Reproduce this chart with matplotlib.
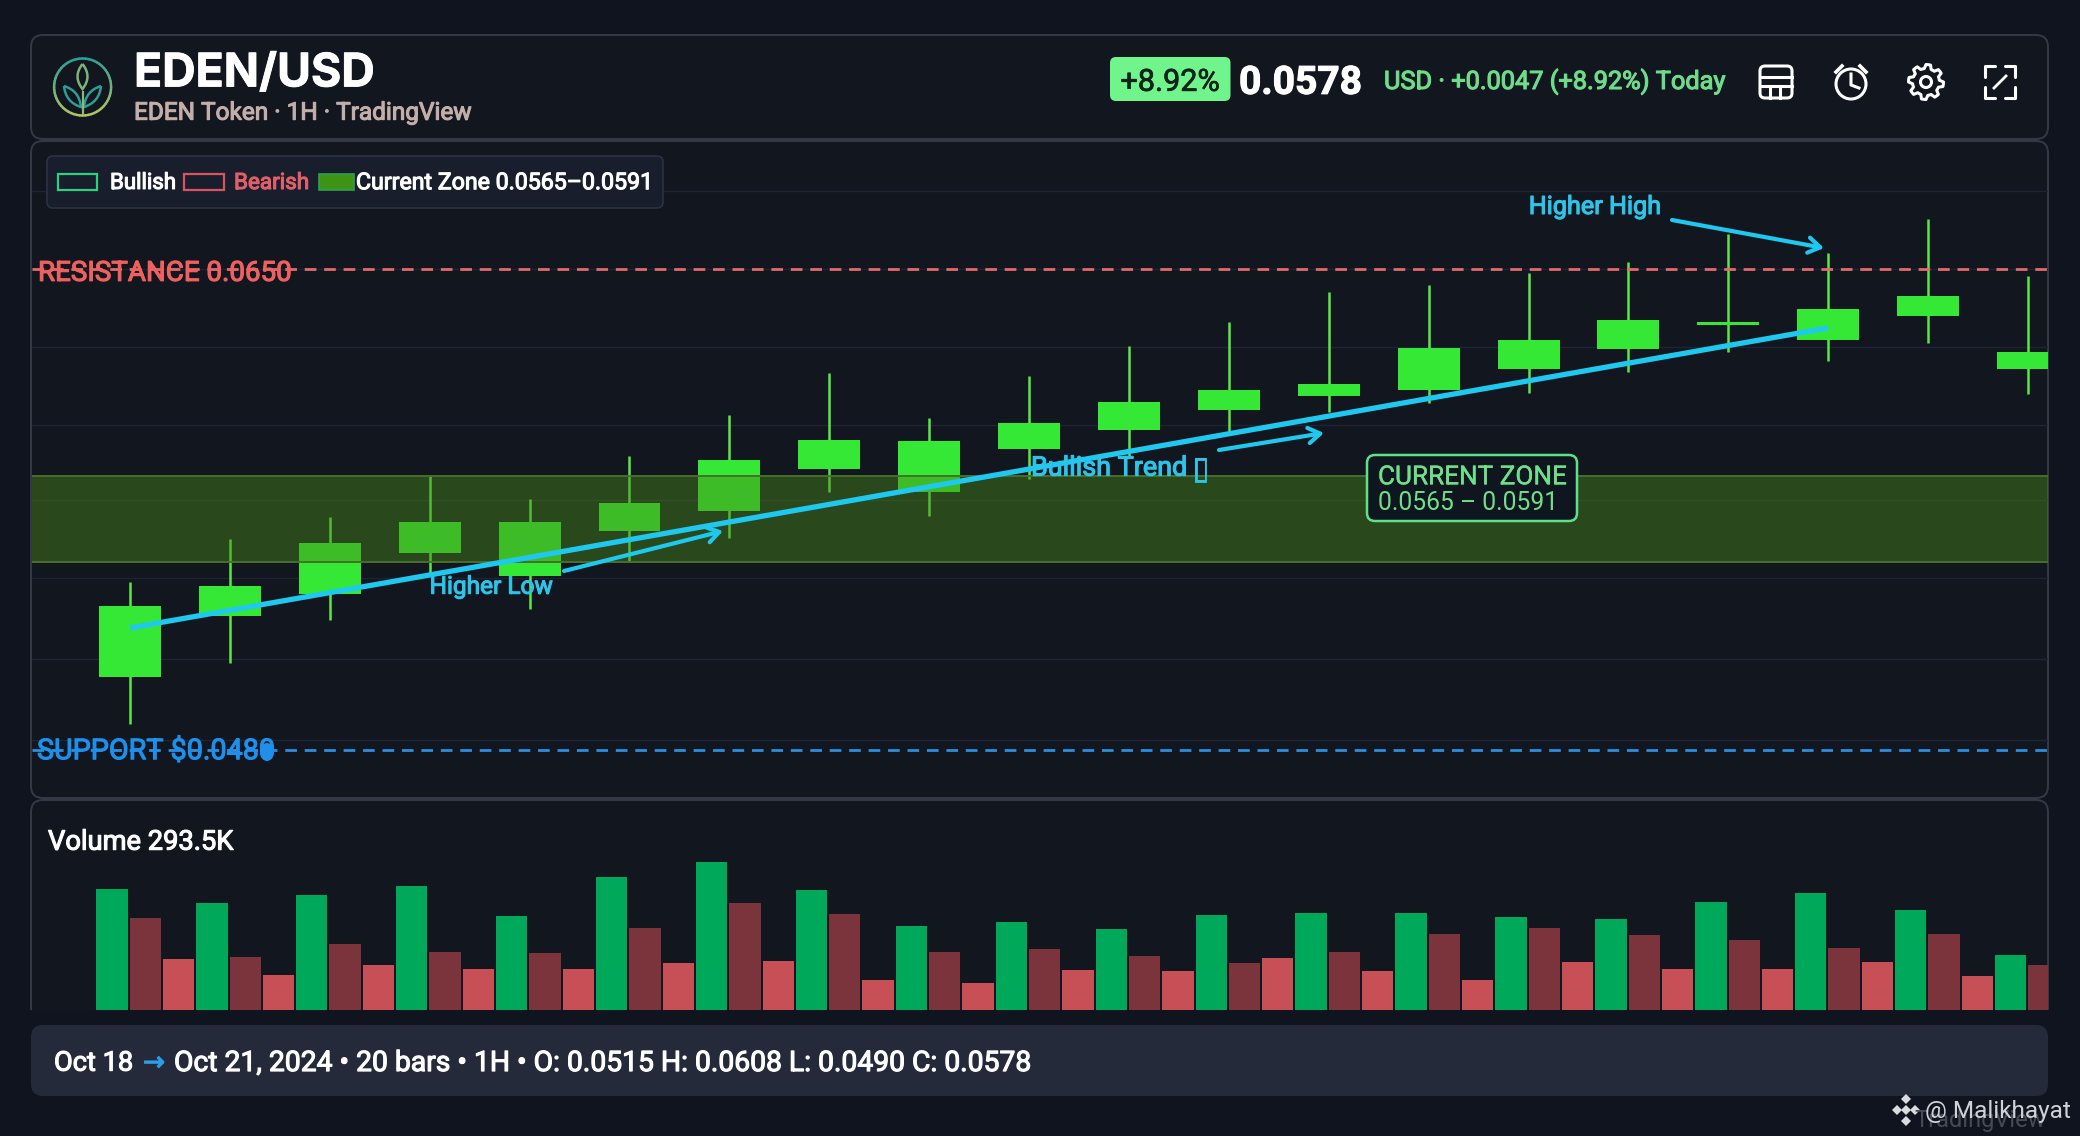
# EDEN/USD dark candlestick dashboard
import numpy as np
import matplotlib
matplotlib.use('Agg')
import matplotlib.pyplot as plt
import matplotlib.patheffects as pe
from matplotlib.patches import FancyBboxPatch, Rectangle, Circle, Ellipse, PathPatch, Polygon
from matplotlib.path import Path

plt.rcParams['font.family'] = ['Roboto', 'DejaVu Sans']

W, H = 2080, 1136

# price data
opens = [0.05057, 0.05273, 0.05351, 0.05496, 0.05415, 0.05574, 0.05645, 0.05794, 0.05712, 0.05865,
         0.05932, 0.06003, 0.06052, 0.06073, 0.06148, 0.06219, 0.06304, 0.06250, 0.06335, 0.06148]
closes = [0.05309, 0.05380, 0.05532, 0.05606, 0.05606, 0.05673, 0.05826, 0.05896, 0.05893, 0.05958,
          0.06031, 0.06073, 0.06095, 0.06222, 0.06250, 0.06321, 0.06314, 0.06360, 0.06406, 0.06208]
highs = [0.05395, 0.05546, 0.05624, 0.05769, 0.05688, 0.05840, 0.05985, 0.06134, 0.05974, 0.06123,
         0.06229, 0.06314, 0.06420, 0.06445, 0.06488, 0.06527, 0.06626, 0.06558, 0.06679, 0.06477]
lows = [0.04891, 0.05107, 0.05259, 0.05426, 0.05298, 0.05465, 0.05549, 0.05712, 0.05627, 0.05757,
        0.05833, 0.05925, 0.05996, 0.06027, 0.06063, 0.06137, 0.06208, 0.06176, 0.06240, 0.06059]

resistance = 0.0650
support = 0.0480
zone_low = 0.05463
zone_high = 0.05769
grid_prices = [0.06778, 0.0650, 0.06226, 0.0595, 0.05684, 0.05408, 0.05121, 0.04834]
trend_bars = [0, 17]
trend_prices = [0.05231, 0.06293]

# volume, one bar per slot, colours repeat green / dark red / light red
volumes = [121.3, 92, 50.7, 107.3, 53.3, 35, 114.7, 65.7, 45.3, 124, 58, 40.7, 94, 56.7, 40.7,
           133.3, 82, 47, 147.7, 107.3, 49, 120, 96.3, 29.7, 84.3, 58, 27.3, 87.7, 61, 40,
           80.7, 53.7, 38.7, 95.3, 46.7, 51.7, 96.7, 58.3, 39.3, 97, 75.7, 30.3, 93.3, 82, 48,
           90.7, 75, 40.7, 108, 69.7, 41.3, 117, 61.7, 48.3, 99.7, 76, 34, 55, 45.3]
vol_colors = ['#00A85A', '#7B343B', '#C75056']

BG = '#10141F'
BORDER = '#343948'
GREEN = '#35E835'
WICK = '#5CE64A'
CYAN = '#1FC8EE'
LABEL_CYAN = '#2CC4E8'

fig = plt.figure(figsize=(W / 100, H / 100), dpi=100, facecolor=BG)
renderer = fig.canvas.get_renderer()


def rect_axes(x0, y0, x1, y1, z):
    # axes from pixel box, y counted from the top
    a = fig.add_axes([x0 / W, 1 - y1 / H, (x1 - x0) / W, (y1 - y0) / H], zorder=z)
    a.patch.set_alpha(0)
    return a


# background layer in pixel coordinates
bg = rect_axes(0, 0, W, H, 0)
bg.set_xlim(0, W)
bg.set_ylim(H, 0)
bg.axis('off')


def panel(a, x0, y0, x1, y1, fc, ec, r=12, lw=1.4, z=1):
    p = FancyBboxPatch((x0, y0), x1 - x0, y1 - y0, boxstyle='round,pad=0,rounding_size=%d' % r,
                       fc=fc, ec=ec, lw=lw, zorder=z)
    a.add_patch(p)


panel(bg, 31, 35, 2048, 139, '#11161F', BORDER)
panel(bg, 31, 141, 2048, 798, '#11161F', BORDER)
# footer
panel(bg, 31, 1025, 2048, 1096, '#252A3A', 'none')

# volume panel has no bottom edge
r = 12
verts = [(31, 1010), (31, 800 + r), (31, 800), (31 + r, 800), (2048 - r, 800), (2048, 800), (2048, 800 + r), (2048, 1010)]
codes = [Path.MOVETO, Path.LINETO, Path.CURVE3, Path.CURVE3, Path.LINETO, Path.CURVE3, Path.CURVE3, Path.LINETO]
bg.add_patch(PathPatch(Path(verts, codes), fc='#11161F', ec=BORDER, lw=1.4, zorder=1))

# ---- price axes
ax = rect_axes(32, 140, 2048, 798, 1)
ax.set_xlim(-0.981, 19.2)
ax.set_ylim(0.04629, 0.06958)
ax.set_yticks(grid_prices)
ax.set_xticks([])
ax.tick_params(left=False, labelleft=False)
ax.grid(axis='y', color='#1F2334', lw=1.0)
ax.set_axisbelow(True)
for s in ax.spines.values():
    s.set_visible(False)

bars = np.arange(len(opens))
ax.vlines(bars, lows, highs, color=WICK, lw=1.8, zorder=2)
ax.bar(bars, np.array(closes) - np.array(opens), 0.62, bottom=opens, color=GREEN, zorder=3)
ax.axhspan(zone_low, zone_high, color='#488819', alpha=0.45, lw=0, zorder=4)
ax.axhline(zone_low, color='#47702B', lw=1.4, zorder=4)
ax.axhline(zone_high, color='#47702B', lw=1.4, zorder=4)
ax.axhline(resistance, color='#E46A6A', lw=2.0, dashes=(4.2, 2.8), zorder=5)
ax.axhline(support, color='#2A8FE0', lw=2.0, dashes=(4.2, 2.8), zorder=5)
ax.plot(trend_bars, trend_prices, color=CYAN, lw=3.8, solid_capstyle='butt', zorder=6)

# ---- volume axes
vax = rect_axes(32, 800, 2048, 1010, 1)
vax.set_xlim(-2.4, 58.12)
vax.set_ylim(0, 210)
vax.axis('off')
slots = np.arange(len(volumes))
vax.bar(slots, volumes, 0.94, color=[vol_colors[i % 3] for i in slots])

# ---- top layer for labels
top = rect_axes(0, 0, W, H, 3)
top.set_xlim(0, W)
top.set_ylim(H, 0)
top.axis('off')


def label(x, y, s, width, color='white', heavy=0.8, ha='left', family=None, weight='normal', z=5):
    # font size comes from the width the text has to fill, y is the middle of the capitals
    t = top.text(x, y, s, fontsize=20, color=color, ha=ha, va='baseline', fontweight=weight, zorder=z)
    if family:
        t.set_fontfamily(family)
    fs = 20 * width / t.get_window_extent(renderer).width
    t.set_fontsize(fs)
    t.set_y(y + 0.71 * fs * 100 / 72 / 2)
    if heavy:
        t.set_path_effects([pe.withStroke(linewidth=heavy, foreground=color)])
    return t


# header text
label(134, 70, 'EDEN/USD', 241, heavy=0.6, family=['Inter', 'DejaVu Sans'], weight='bold')
label(134, 111, 'EDEN Token · 1H · TradingView', 337, color='#C4AFA8')
top.add_patch(FancyBboxPatch((1110, 57), 120.5, 44, boxstyle='round,pad=0,rounding_size=6', fc='#6FF58C', ec='none'))
label(1170, 80, '+8.92%', 99, color='#10221A', ha='center', heavy=0.5)
label(1239, 80, '0.0578', 123, weight='bold')
label(1384, 80, 'USD · +0.0047 (+8.92%) Today', 341, color='#6EDC8A')

# logo, ring fades from teal to olive
cx, cy, rr = 82.6, 87, 28.5
angs = np.linspace(0, 2 * np.pi, 61)
c_a, c_b = np.array([0x28, 0xA0, 0x98]), np.array([0xB4, 0xC4, 0x60])
for i in range(60):
    t = (np.sin((angs[i] + angs[i + 1]) / 2) + 1) / 2
    top.plot(cx + rr * np.cos(angs[i:i + 2]), cy + rr * np.sin(angs[i:i + 2]),
             color=tuple((c_a + (c_b - c_a) * t) / 255), lw=1.8, solid_capstyle='round')


def leaf(x0, y0, x1, y1, bulge, color):
    mx, my = (x0 + x1) / 2, (y0 + y1) / 2
    dx, dy = y1 - y0, x0 - x1
    n = np.hypot(dx, dy)
    dx, dy = dx / n * bulge, dy / n * bulge
    pts = [(x0, y0), (mx + dx, my + dy), (x1, y1), (mx - dx, my - dy), (x0, y0)]
    cd = [Path.MOVETO, Path.CURVE3, Path.CURVE3, Path.CURVE3, Path.CURVE3]
    top.add_patch(PathPatch(Path(pts, cd), fc='none', ec=color, lw=1.8))


leaf(82.5, 64, 82.5, 89, 10, '#7FB27A')
leaf(64, 86, 81, 107, 9, '#2E9C96')
leaf(101, 86, 84, 107, 9, '#2E9C96')
top.plot([82.5, 82.5], [92, 113], color='#8CB878', lw=1.6)

# toolbar icons
ic = dict(fc='none', ec='white', lw=2.2)
top.add_patch(FancyBboxPatch((1760, 66), 32, 32, boxstyle='round,pad=0,rounding_size=5', **ic))
top.plot([1760, 1792], [77, 77], color='white', lw=2.2)
top.plot([1760, 1792], [86, 86], color='white', lw=2.2)
for vx in (1770, 1780):
    top.plot([vx, vx], [86, 98], color='white', lw=2.2)

top.add_patch(Circle((1851, 84), 15, **ic))
top.plot([1851, 1851, 1859], [74, 85, 88], color='white', lw=2.2)
top.plot([1836, 1842], [72, 66], color='white', lw=2.6)
top.plot([1860, 1866], [66, 72], color='white', lw=2.6)

teeth = np.linspace(0, 2 * np.pi, 49)
gear_r = np.where((np.arange(49) % 6 < 3), 17.5, 13.5)
top.add_patch(Polygon(np.c_[1926 + gear_r * np.cos(teeth), 82 + gear_r * np.sin(teeth)], closed=True,
                      joinstyle='round', **ic))
top.add_patch(Circle((1926, 82), 5.5, **ic))

for sx, sy in ((1, 1), (-1, 1), (1, -1), (-1, -1)):
    top.plot([2000 - 15 * sx, 2000 - 15 * sx, 2000 - 5 * sx], [82 - 5 * sy, 82 - 16 * sy, 82 - 16 * sy],
             color='white', lw=2.2, solid_capstyle='round')
top.plot([1994, 2006], [88, 76], color='white', lw=2.0)

# legend box
panel(top, 47, 156, 663, 208, '#191E2C', '#2C3242', r=6, lw=1.2, z=2)
top.add_patch(Rectangle((58, 174), 39, 16, fc='none', ec='#2FCF80', lw=1.6, zorder=3))
label(110, 181, 'Bullish', 66)
top.add_patch(Rectangle((184, 174), 40, 16, fc='none', ec='#D9545C', lw=1.6, zorder=3))
label(234, 181, 'Bearish', 75, color='#E0606A')
top.add_patch(Rectangle((319, 174), 35, 16, fc='#3F9314', ec='#2FA050', lw=1.2, zorder=3))
label(356, 181, 'Current Zone 0.0565–0.0591', 297)

# level labels sit on top of the dashed lines
label(38, 271, 'RESISTANCE 0.0650', 254, color='#F0605F')
label(37, 749, 'SUPPORT $0.0480', 238, color='#1E8FEA')
top.add_patch(Ellipse((267, 752), 14, 18, fc='#1E8FEA', ec='none', zorder=4))


def arrow(x0, y0, x1, y1):
    top.annotate('', xy=(x1, y1), xytext=(x0, y0),
                 arrowprops=dict(arrowstyle='->,head_length=0.85,head_width=0.55', color=CYAN, lw=3.0,
                                 shrinkA=0, shrinkB=0))


label(1595, 205, 'Higher High', 132, color=LABEL_CYAN, ha='center')
arrow(1672, 220, 1824, 248)
label(491, 585, 'Higher Low', 123, color=LABEL_CYAN, ha='center')
arrow(564, 571, 723, 531)
label(1031, 466, 'Bullish Trend', 156, color=LABEL_CYAN)
label(1192, 467, '▯', 17, color=LABEL_CYAN, heavy=0.6)
arrow(1219, 450, 1324, 433)

# current zone box
panel(top, 1367, 455, 1577, 521, '#10161F', '#5FE08A', r=8, lw=1.8, z=4)
label(1378, 475, 'CURRENT ZONE', 189, color='#6EE08A', heavy=0.3)
label(1378, 501, '0.0565 – 0.0591', 180, color='#6EE08A', heavy=0)

# volume title and footer
label(48, 840, 'Volume 293.5K', 185)
label(54, 1061, 'Oct 18', 79)
label(143, 1061, '→', 22, color='#2A9FE8')
label(174, 1061, 'Oct 21, 2024 • 20 bars • 1H • O: 0.0515 H: 0.0608 L: 0.0490 C: 0.0578', 856)

# watermark
label(1914, 1119, 'TradingView', 131, color='#454A56', heavy=0)
label(1925, 1109, '@ Malikhayat', 146, color='#CFD2D6', heavy=0)
for dx, dy in ((0, -11), (-9, 0), (9, 0), (0, 11), (0, 0)):
    top.add_patch(Polygon([(1906 + dx, 1110 + dy - 5), (1906 + dx + 5, 1110 + dy), (1906 + dx, 1110 + dy + 5),
                           (1906 + dx - 5, 1110 + dy)], closed=True, fc='#DADCE0', ec='none'))

fig.savefig('out.png', dpi=100, facecolor=BG)
